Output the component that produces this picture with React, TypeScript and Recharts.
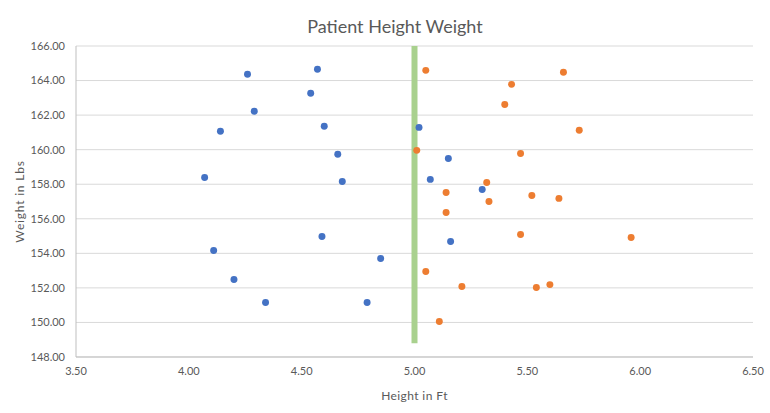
import React from 'react';
import {
  ScatterChart,
  Scatter,
  XAxis,
  YAxis,
  ZAxis,
  CartesianGrid,
  ReferenceLine,
} from 'recharts';

// left group (blue)
const groupA = [
  { x: 4.26, y: 164.36 },
  { x: 4.57, y: 164.65 },
  { x: 4.54, y: 163.26 },
  { x: 4.29, y: 162.22 },
  { x: 4.14, y: 161.06 },
  { x: 4.6, y: 161.35 },
  { x: 4.66, y: 159.73 },
  { x: 4.07, y: 158.39 },
  { x: 4.68, y: 158.16 },
  { x: 5.02, y: 161.29 },
  { x: 5.15, y: 159.49 },
  { x: 5.07, y: 158.28 },
  { x: 5.3, y: 157.7 },
  { x: 5.16, y: 154.68 },
  { x: 4.85, y: 153.7 },
  { x: 4.11, y: 154.16 },
  { x: 4.2, y: 152.48 },
  { x: 4.34, y: 151.15 },
  { x: 4.59, y: 154.97 },
  { x: 4.79, y: 151.15 },
];

// right group (orange)
const groupB = [
  { x: 5.05, y: 164.59 },
  { x: 5.66, y: 164.48 },
  { x: 5.43, y: 163.78 },
  { x: 5.4, y: 162.62 },
  { x: 5.73, y: 161.12 },
  { x: 5.01, y: 159.96 },
  { x: 5.47, y: 159.78 },
  { x: 5.32, y: 158.1 },
  { x: 5.14, y: 157.52 },
  { x: 5.52, y: 157.35 },
  { x: 5.64, y: 157.18 },
  { x: 5.33, y: 157.0 },
  { x: 5.14, y: 156.36 },
  { x: 5.47, y: 155.09 },
  { x: 5.96, y: 154.92 },
  { x: 5.05, y: 152.95 },
  { x: 5.21, y: 152.08 },
  { x: 5.54, y: 152.02 },
  { x: 5.6, y: 152.19 },
  { x: 5.11, y: 150.05 },
];

const divider = [
  { x: 5.0, y: 148.8 },
  { x: 5.0, y: 166.0 },
];

const xTicks = [3.5, 4.0, 4.5, 5.0, 5.5, 6.0, 6.5];
const yTicks = [148, 150, 152, 154, 156, 158, 160, 162, 164, 166];

const FONT = 'Lato, "Open Sans", sans-serif';
const TEXT = '#595959';

const App: React.FC = () => {
  return (
    <div style={{ position: 'absolute', left: 0, top: 0, width: 770, height: 413, background: '#fff', fontFamily: FONT }}>
      <div
        style={{
          position: 'absolute',
          top: 15,
          left: 0,
          width: 790,
          textAlign: 'center',
          fontSize: 18,
          color: TEXT,
        }}
      >
        Patient Height Weight
      </div>
      <ScatterChart width={770} height={413} margin={{ top: 46, right: 17, bottom: 0, left: 0 }}>
        <CartesianGrid vertical={false} stroke="#d9d9d9" />
        <XAxis
          type="number"
          dataKey="x"
          domain={[3.5, 6.5]}
          ticks={xTicks}
          tickFormatter={(v: number) => v.toFixed(2)}
          tickLine={false}
          tickSize={0}
          tickMargin={10}
          height={56}
          stroke="#bfbfbf"
          tick={{ fill: TEXT, fontSize: 11, fontFamily: FONT }}
          label={{
            value: 'Height in Ft',
            position: 'insideBottom',
            offset: 13,
            fill: TEXT,
            fontSize: 12,
            fontFamily: FONT,
            style: { letterSpacing: '0.4px' },
          }}
        />
        <YAxis
          type="number"
          dataKey="y"
          domain={[148, 166]}
          ticks={yTicks}
          tickFormatter={(v: number) => v.toFixed(2)}
          tickLine={false}
          tickSize={0}
          tickMargin={11}
          width={76}
          stroke="#bfbfbf"
          tick={{ fill: TEXT, fontSize: 11, fontFamily: FONT }}
          label={{
            value: 'Weight in Lbs',
            angle: -90,
            position: 'insideLeft',
            offset: 20,
            fill: TEXT,
            fontSize: 12,
            fontFamily: FONT,
            style: { textAnchor: 'middle', letterSpacing: '0.8px' },
          }}
        />
        <ZAxis range={[38, 38]} />
        <ReferenceLine
          segment={divider}
          stroke="#a9d18e"
          strokeWidth={6}
          ifOverflow="extendDomain"
        />
        <Scatter data={groupA} fill="#4472c4" isAnimationActive={false} />
        <Scatter data={groupB} fill="#ed7d31" isAnimationActive={false} />
      </ScatterChart>
    </div>
  );
};

export default App;
